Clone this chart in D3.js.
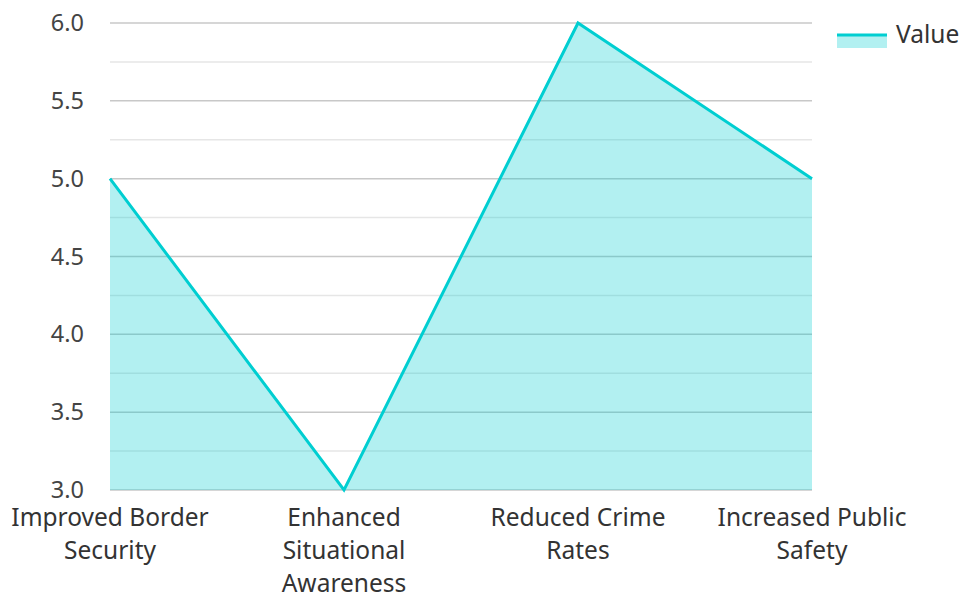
<!DOCTYPE html>
<html>
<head>
<meta charset="utf-8">
<script src="https://cdn.jsdelivr.net/npm/d3@7"></script>
<style>
    body { margin: 0; background: #fff; }
    svg text { font-family: "Noto Sans", "Open Sans", sans-serif; }
</style>
</head>
<body>
<div id="chart"></div>
<script>
const categories = ["Improved Border Security", "Enhanced Situational Awareness", "Reduced Crime Rates", "Increased Public Safety"];
const categoryLines = [["Improved Border", "Security"], ["Enhanced", "Situational", "Awareness"], ["Reduced Crime", "Rates"], ["Increased Public", "Safety"]];
const values = [5, 3, 6, 5];
const yTicks = [3.0, 3.5, 4.0, 4.5, 5.0, 5.5, 6.0];
const minorTicks = [3.25, 3.75, 4.25, 4.75, 5.25, 5.75];
const seriesName = "Value";

const W = 961, H = 594;
const margin = { top: 23, right: 149, bottom: 104, left: 110 };
const width = W - margin.left - margin.right;
const height = H - margin.top - margin.bottom;

const lineColor = "#00CED1";
const fillColor = "rgba(0, 206, 209, 0.3)";

const svg = d3.select("#chart")
    .append("svg")
    .attr("width", W)
    .attr("height", H);

const g = svg.append("g")
    .attr("transform", `translate(${margin.left},${margin.top})`);

// Scales
const xScale = d3.scalePoint()
    .domain(categories)
    .range([0, width]);

const yScale = d3.scaleLinear()
    .domain([3, 6])
    .range([height, 0]);

// Gridlines
g.selectAll(".minor")
    .data(minorTicks)
    .enter()
    .append("line")
    .attr("x1", 0)
    .attr("x2", width)
    .attr("y1", d => yScale(d))
    .attr("y2", d => yScale(d))
    .attr("stroke", "#e6e6e6")
    .attr("stroke-width", 1.5);

g.selectAll(".major")
    .data(yTicks)
    .enter()
    .append("line")
    .attr("x1", 0)
    .attr("x2", width)
    .attr("y1", d => yScale(d))
    .attr("y2", d => yScale(d))
    .attr("stroke", "#c8c8c8")
    .attr("stroke-width", 1.5);

// Y axis labels
const yAxis = g.append("g")
    .call(d3.axisLeft(yScale).tickValues(yTicks).tickFormat(d3.format(".1f")).tickSize(0).tickPadding(26));
yAxis.select(".domain").remove();
yAxis.selectAll("text")
    .style("font-size", "23.5px")
    .attr("fill", "#444");

// Area + line
const rows = categories.map((c, i) => ({ cat: c, value: values[i] }));

g.append("path")
    .datum(rows)
    .attr("d", d3.area()
        .x(d => xScale(d.cat))
        .y0(yScale(3))
        .y1(d => yScale(d.value)))
    .attr("fill", fillColor);

g.append("path")
    .datum(rows)
    .attr("d", d3.line()
        .x(d => xScale(d.cat))
        .y(d => yScale(d.value)))
    .attr("fill", "none")
    .attr("stroke", lineColor)
    .attr("stroke-width", 3);

// X labels
const xLabels = g.selectAll(".xlabel")
    .data(categories)
    .enter()
    .append("text")
    .attr("class", "xlabel")
    .attr("x", d => xScale(d))
    .attr("y", height + 36)
    .attr("text-anchor", "middle")
    .attr("fill", "#333")
    .style("font-size", "24.5px");

xLabels.selectAll("tspan")
    .data((d, i) => categoryLines[i])
    .enter()
    .append("tspan")
    .attr("x", function() { return d3.select(this.parentNode).attr("x"); })
    .attr("dy", (d, i) => i === 0 ? 0 : 33)
    .text(d => d);

// Legend
const legend = svg.append("g")
    .attr("transform", "translate(837, 35)");

legend.append("rect")
    .attr("x", 0)
    .attr("y", 0)
    .attr("width", 50)
    .attr("height", 13)
    .attr("fill", fillColor);

legend.append("line")
    .attr("x1", 0)
    .attr("x2", 50)
    .attr("y1", 0)
    .attr("y2", 0)
    .attr("stroke", lineColor)
    .attr("stroke-width", 3);

legend.append("text")
    .attr("x", 59)
    .attr("y", 1)
    .attr("dominant-baseline", "middle")
    .attr("fill", "#333")
    .style("font-size", "24.5px")
    .text(seriesName);
</script>
</body>
</html>
